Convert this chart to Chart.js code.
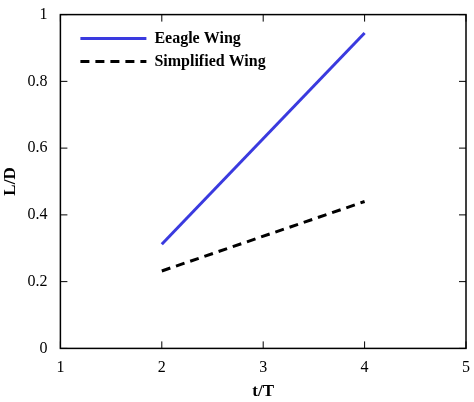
<!DOCTYPE html>
<html><head><meta charset="utf-8">
<script src="https://cdn.jsdelivr.net/npm/chart.js@4"></script>
<style>html,body{margin:0;padding:0;background:#fff}#wrap{width:474px;height:402px}</style>
</head><body><div id="wrap"><canvas id="c"></canvas></div>
<script>
// values
const tValues = [2, 4];
const eagleWing = [0.312, 0.945];
const simplifiedWing = [0.232, 0.44];
const xTicks = [1, 2, 3, 4, 5];
const yTicks = [0, 0.2, 0.4, 0.6, 0.8, 1];

const pts = ys => tValues.map((t, i) => ({ x: t, y: ys[i] }));

// box, inward ticks and legend inside the plot
const framePlugin = {
    id: 'frame',
    afterDraw(chart) {
        const { ctx, chartArea: a, scales } = chart;
        ctx.save();
        ctx.strokeStyle = '#000';
        ctx.lineWidth = 1.5;
        ctx.strokeRect(a.left, a.top, a.right - a.left, a.bottom - a.top);
        ctx.lineWidth = 1;
        xTicks.forEach(v => {
            const x = scales.x.getPixelForValue(v);
            ctx.beginPath(); ctx.moveTo(x, a.bottom); ctx.lineTo(x, a.bottom - 7);
            ctx.moveTo(x, a.top); ctx.lineTo(x, a.top + 7); ctx.stroke();
        });
        yTicks.forEach(v => {
            const y = scales.y.getPixelForValue(v);
            ctx.beginPath(); ctx.moveTo(a.left, y); ctx.lineTo(a.left + 7, y);
            ctx.moveTo(a.right, y); ctx.lineTo(a.right - 7, y); ctx.stroke();
        });
        ctx.font = 'bold 16px "Liberation Serif"';
        ctx.textBaseline = 'middle';
        chart.data.datasets.forEach((ds, i) => {
            const y = a.top + 24 + i * 23;
            ctx.strokeStyle = ds.borderColor;
            ctx.lineWidth = ds.borderWidth;
            ctx.setLineDash(ds.borderDash || []);
            ctx.beginPath(); ctx.moveTo(a.left + 20, y); ctx.lineTo(a.left + 86, y); ctx.stroke();
            ctx.setLineDash([]);
            ctx.fillStyle = '#000';
            ctx.fillText(ds.label, a.left + 94, y);
        });
        ctx.restore();
    }
};

new Chart(document.getElementById('c'), {
    type: 'line',
    data: {
        datasets: [
            { label: 'Eeagle Wing', data: pts(eagleWing), borderColor: '#3a3adf', borderWidth: 3, pointRadius: 0, fill: false },
            { label: 'Simplified Wing', data: pts(simplifiedWing), borderColor: '#000', borderWidth: 3, borderDash: [9, 6], pointRadius: 0, fill: false }
        ]
    },
    options: {
        responsive: true,
        maintainAspectRatio: false,
        animation: false,
        layout: { padding: { top: 2, right: 8, left: 0, bottom: 0 } },
        plugins: { legend: { display: false }, tooltip: { enabled: false } },
        scales: {
            x: {
                type: 'linear', min: 1, max: 5,
                afterBuildTicks: s => { s.ticks = xTicks.map(v => ({ value: v })); },
                grid: { display: false },
                border: { display: false },
                ticks: { color: '#000', font: { family: 'Liberation Serif', size: 16 }, padding: 2 },
                title: { display: true, text: 't/T', color: '#000', padding: { top: 2, bottom: 0 }, font: { family: 'Liberation Serif', size: 17, weight: 'bold' } }
            },
            y: {
                min: 0, max: 1,
                afterBuildTicks: s => { s.ticks = yTicks.map(v => ({ value: v })); },
                grid: { display: false },
                border: { display: false },
                ticks: { color: '#000', font: { family: 'Liberation Serif', size: 16 }, padding: 5, callback: v => String(v) },
                title: { display: true, text: 'L/D', color: '#000', padding: { top: 0, bottom: 2 }, font: { family: 'Liberation Serif', size: 17, weight: 'bold' } }
            }
        }
    },
    plugins: [framePlugin]
});
</script></body></html>
